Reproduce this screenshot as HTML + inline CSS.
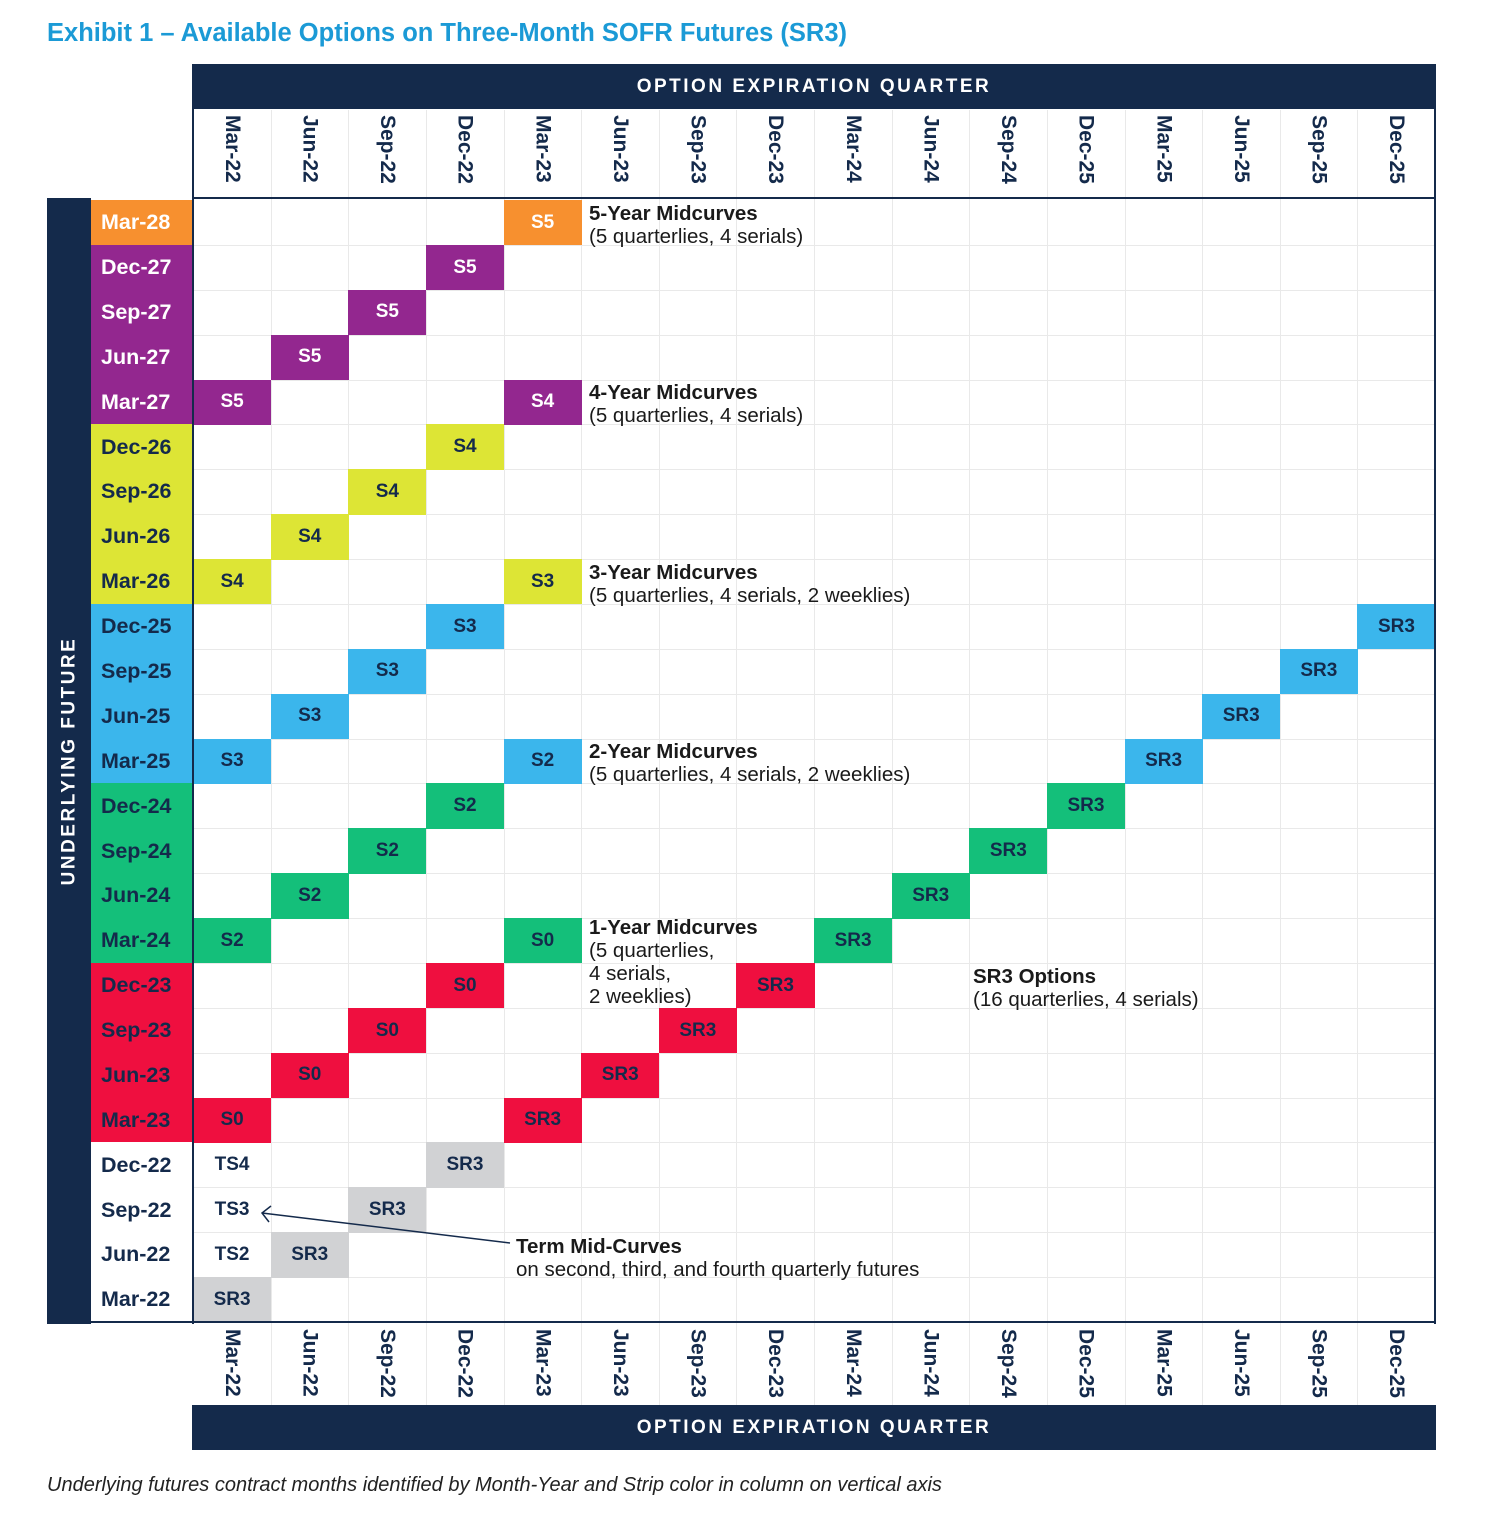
<!DOCTYPE html>
<html><head><meta charset="utf-8"><style>
body{margin:0;background:#fff;width:1488px;height:1521px;position:relative;overflow:hidden;font-family:"Liberation Sans",sans-serif;}
.a{position:absolute;box-sizing:border-box;}
.title{left:47px;top:19px;font-size:25.5px;font-weight:bold;color:#1b9ad6;}
.navy{background:#142a4b;}
.bar{color:#fff;font-weight:bold;font-size:19px;letter-spacing:2.5px;display:flex;align-items:center;justify-content:center;}
.col{font-size:21px;font-weight:bold;color:#142a4b;writing-mode:vertical-rl;display:flex;align-items:center;}
.rl{font-size:21.5px;font-weight:bold;display:flex;align-items:center;padding-left:10px;}
.cell{font-size:19px;font-weight:bold;display:flex;align-items:center;justify-content:center;}
.ann{font-size:20.5px;color:#1a1a1a;line-height:23px;white-space:nowrap;}
.ann b{font-weight:bold;}
.foot{left:47px;top:1474px;font-size:20px;font-style:italic;color:#222;}
</style></head><body>
<div class="a title">Exhibit 1 – Available Options on Three-Month SOFR Futures (SR3)</div>
<div class="a navy bar" style="left:192px;top:64px;width:1244px;height:45px">OPTION EXPIRATION QUARTER</div>
<div class="a navy bar" style="left:192px;top:1405px;width:1244px;height:45px">OPTION EXPIRATION QUARTER</div>
<div class="a navy" style="left:47px;top:198px;width:44px;height:1126px"></div>
<div class="a" style="left:47px;top:198px;width:44px;height:1126px;display:flex;align-items:center;justify-content:center"><div style="transform:rotate(-90deg);white-space:nowrap;color:#fff;font-weight:bold;font-size:19px;letter-spacing:2.5px">UNDERLYING FUTURE</div></div>
<div id="chart"></div>
<div class="a foot">Underlying futures contract months identified by Month-Year and Strip color in column on vertical axis</div>
<script>
const cols=["Mar-22","Jun-22","Sep-22","Dec-22","Mar-23","Jun-23","Sep-23","Dec-23","Mar-24","Jun-24","Sep-24","Dec-25","Mar-25","Jun-25","Sep-25","Dec-25"];
const rows=["Mar-28","Dec-27","Sep-27","Jun-27","Mar-27","Dec-26","Sep-26","Jun-26","Mar-26","Dec-25","Sep-25","Jun-25","Mar-25","Dec-24","Sep-24","Jun-24","Mar-24","Dec-23","Sep-23","Jun-23","Mar-23","Dec-22","Sep-22","Jun-22","Mar-22"];
const rowGroup=["orange","purple","purple","purple","purple","yellow","yellow","yellow","yellow","blue","blue","blue","blue","green","green","green","green","red","red","red","red","gray","gray","gray","gray"];
const cellRows=[0,1,2,3,4,4,5,6,7,8,8,9,10,11,12,12,13,14,15,16,16,17,18,19,20,21,22,23,9,10,11,12,13,14,15,16,17,18,19,20,21,22,23,24];
const cellCols=[4,3,2,1,0,4,3,2,1,0,4,3,2,1,0,4,3,2,1,0,4,3,2,1,0,0,0,0,15,14,13,12,11,10,9,8,7,6,5,4,3,2,1,0];
const cellText=["S5","S5","S5","S5","S5","S4","S4","S4","S4","S4","S3","S3","S3","S3","S3","S2","S2","S2","S2","S2","S0","S0","S0","S0","S0","TS4","TS3","TS2","SR3","SR3","SR3","SR3","SR3","SR3","SR3","SR3","SR3","SR3","SR3","SR3","SR3","SR3","SR3","SR3"];
const fills={orange:"#f7902f",purple:"#93278f",yellow:"#dde535",blue:"#3bb6ec",green:"#14bf7a",red:"#ef0f3f",gray:"#d1d2d4"};
const inks={orange:"#fff",purple:"#fff",yellow:"#142a4b",blue:"#142a4b",green:"#142a4b",red:"#142a4b",gray:"#142a4b"};
const X0=193,Y0=200,CW=(1435-193)/16,RH=(1322-200)/25;
const x=i=>X0+i*CW, y=r=>Y0+r*RH;
const chart=document.getElementById('chart');
function div(cls,st,txt){const d=document.createElement('div');d.className='a '+cls;d.style.cssText=st;if(txt!=null)d.innerHTML=txt;chart.appendChild(d);return d;}
for(let i=1;i<16;i++){
 const l=div('',`left:${x(i)}px;top:110px;width:1px;height:1295px;background:#e9e9e9`);
 
 
}
for(let r=1;r<25;r++){
 const l=div('',`left:193px;top:${y(r)}px;width:1242px;height:1px;background:#e9e9e9`);
 
 
}
rows.forEach((t,r)=>{
 const g=rowGroup[r];
 const bg=g==='gray'?'#fff':fills[g];
 const d=div('rl',`left:91px;top:${y(r)}px;width:102px;height:${RH+0.5}px;background:${bg};color:${g==='gray'?'#142a4b':inks[g]}`,t);
 
 
});
cols.forEach((t,i)=>{
 const a=div('col',`left:${x(i)}px;top:115px;width:${CW}px;height:83px`,t);
 
 
 const b=div('col',`left:${x(i)}px;top:1329px;width:${CW}px;height:76px`,t);
 
 
});
cellText.forEach((t,k)=>{
 const r=cellRows[k],c=cellCols[k],g=rowGroup[r];
 const filled=!t.startsWith('TS');
 const d=div('cell',`left:${x(c)}px;top:${y(r)}px;width:${CW+0.5}px;height:${RH+0.5}px;background:${filled?fills[g]:'transparent'};color:${filled?inks[g]:'#142a4b'}`,t);
 
 
});
[[192,109,2,1215],[47,1321,1389,2],[192,197,1244,2],[1434,109,2,1215]].forEach(b=>{
 const d=div('navy',`left:${b[0]}px;top:${b[1]}px;width:${b[2]}px;height:${b[3]}px`);
 
 
});
</script>
<div class="a ann" style="left:589px;top:202px"><b>5-Year Midcurves</b><br>(5 quarterlies, 4 serials)</div>
<div class="a ann" style="left:589px;top:381px"><b>4-Year Midcurves</b><br>(5 quarterlies, 4 serials)</div>
<div class="a ann" style="left:589px;top:561px"><b>3-Year Midcurves</b><br>(5 quarterlies, 4 serials, 2 weeklies)</div>
<div class="a ann" style="left:589px;top:740px"><b>2-Year Midcurves</b><br>(5 quarterlies, 4 serials, 2 weeklies)</div>
<div class="a ann" style="left:589px;top:916px"><b>1-Year Midcurves</b><br>(5 quarterlies,<br>4 serials,<br>2 weeklies)</div>
<div class="a ann" style="left:973px;top:965px"><b>SR3 Options</b><br>(16 quarterlies, 4 serials)</div>
<div class="a ann" style="left:516px;top:1235px"><b>Term Mid-Curves</b><br>on second, third, and fourth quarterly futures</div>
<svg class="a" style="left:0;top:0" width="1488" height="1521"><g stroke="#142a4b" stroke-width="1.5" fill="none"><line x1="510" y1="1243" x2="262" y2="1213"/><polyline points="271,1206 262,1213 269,1222"/></g></svg>
</body></html>
